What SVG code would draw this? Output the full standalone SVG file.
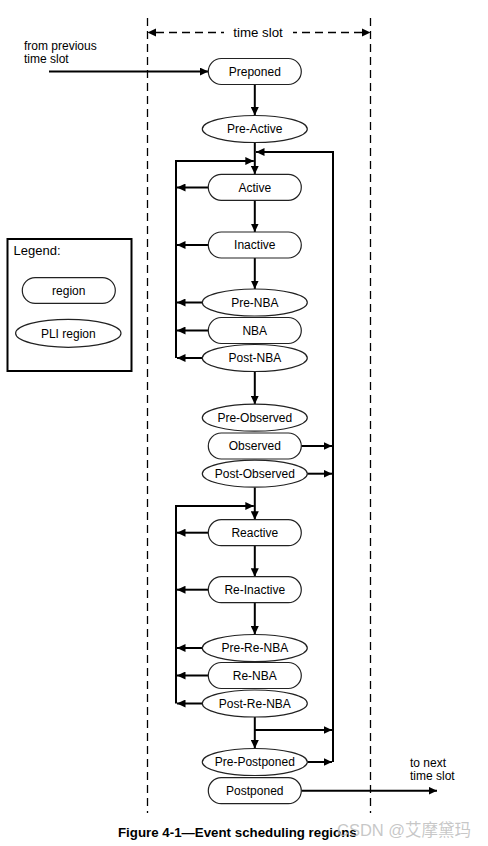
<svg xmlns="http://www.w3.org/2000/svg" width="488" height="846" viewBox="0 0 488 846">
<style>
text{font-family:"Liberation Sans",Arial,sans-serif;fill:#000}
.lbl{font-size:12px;text-anchor:middle}
.reg{fill:#fff;stroke:#222;stroke-width:1.2}
.c{fill:none;stroke:#000;stroke-width:2}
.a{marker-end:url(#ah)}
.dash{fill:none;stroke:#000;stroke-width:1.3;stroke-dasharray:8 5}
</style>
<defs>
<marker id="ah" markerUnits="userSpaceOnUse" markerWidth="9" markerHeight="8" refX="8.5" refY="4" orient="auto">
<path d="M0,0 L8.5,4 L0,8 z" fill="#000"/>
</marker>
</defs>
<rect width="488" height="846" fill="#fff"/>

<g id="timeslot">
<line class="dash" x1="147.5" y1="18" x2="147.5" y2="813"/>
<line class="dash" x1="370.5" y1="18" x2="370.5" y2="813"/>
<line class="dash" x1="156" y1="32.5" x2="224" y2="32.5"/>
<line class="dash" x1="362" y1="32.5" x2="293" y2="32.5"/>
<path d="M156,28.5 L147.5,32.5 L156,36.5 z" fill="#000"/>
<path d="M362,28.5 L370.5,32.5 L362,36.5 z" fill="#000"/>
<text x="258" y="36.5" style="font-size:13.3px;text-anchor:middle">time slot</text>
</g>

<g id="from-label">
<text x="24" y="50" style="font-size:12px">from previous</text>
<text x="24" y="63" style="font-size:12px">time slot</text>
</g>
<g id="to-label">
<text x="410" y="767" style="font-size:12px">to next</text>
<text x="410" y="780" style="font-size:12px">time slot</text>
</g>

<g id="connectors">
<line class="c a" x1="49" y1="71.5" x2="208.3" y2="71.5"/>
<line class="c a" x1="254.8" y1="84.5" x2="254.8" y2="115.5"/>
<line class="c a" x1="254.8" y1="142.5" x2="254.8" y2="174.3"/>
<polyline class="c a" points="333,762 333,152 256,152"/>
<polyline class="c a" points="176,358 176,161 253.8,161"/>
<line class="c a" x1="208.3" y1="187.5" x2="177" y2="187.5"/>
<line class="c a" x1="208.3" y1="245" x2="177" y2="245"/>
<line class="c a" x1="202.3" y1="302.5" x2="177" y2="302.5"/>
<line class="c a" x1="208.3" y1="330.5" x2="177" y2="330.5"/>
<line class="c a" x1="202.3" y1="358" x2="177" y2="358"/>
<line class="c a" x1="254.8" y1="200.3" x2="254.8" y2="232"/>
<line class="c a" x1="254.8" y1="258" x2="254.8" y2="289"/>
<line class="c a" x1="254.8" y1="371.5" x2="254.8" y2="404.2"/>
<line class="c a" x1="301.3" y1="446" x2="332" y2="446"/>
<line class="c a" x1="307.3" y1="473.7" x2="332" y2="473.7"/>
<line class="c a" x1="254.8" y1="487.2" x2="254.8" y2="519.7"/>
<polyline class="c a" points="176,703.5 176,506 253.8,506"/>
<line class="c a" x1="208.3" y1="532.7" x2="177" y2="532.7"/>
<line class="c a" x1="208.3" y1="589.7" x2="177" y2="589.7"/>
<line class="c a" x1="202.3" y1="648" x2="177" y2="648"/>
<line class="c a" x1="208.3" y1="675.5" x2="177" y2="675.5"/>
<line class="c a" x1="202.3" y1="703.5" x2="177" y2="703.5"/>
<line class="c a" x1="254.8" y1="545.7" x2="254.8" y2="576.7"/>
<line class="c a" x1="254.8" y1="602.7" x2="254.8" y2="634.5"/>
<line class="c a" x1="254.8" y1="717" x2="254.8" y2="748.5"/>
<line class="c a" x1="254.8" y1="730" x2="332" y2="730"/>
<line class="c a" x1="307.3" y1="762" x2="332" y2="762"/>
<line class="c a" x1="301.3" y1="790.7" x2="437" y2="790.7"/>
</g>

<g id="preponed"><rect class="reg" x="208.3" y="58.5" width="93" height="26" rx="13"/><text class="lbl" x="254.8" y="75.8">Preponed</text></g>
<g id="pre-active"><ellipse class="reg" cx="254.8" cy="129" rx="52.5" ry="13.5"/><text class="lbl" x="254.8" y="133.3">Pre-Active</text></g>
<g id="active"><rect class="reg" x="208.3" y="174.3" width="93" height="26" rx="13"/><text class="lbl" x="254.8" y="191.6">Active</text></g>
<g id="inactive"><rect class="reg" x="208.3" y="232" width="93" height="26" rx="13"/><text class="lbl" x="254.8" y="249.3">Inactive</text></g>
<g id="pre-nba"><ellipse class="reg" cx="254.8" cy="302.5" rx="52.5" ry="13.5"/><text class="lbl" x="254.8" y="306.8">Pre-NBA</text></g>
<g id="nba"><rect class="reg" x="208.3" y="317.5" width="93" height="26" rx="13"/><text class="lbl" x="254.8" y="334.8">NBA</text></g>
<g id="post-nba"><ellipse class="reg" cx="254.8" cy="358" rx="52.5" ry="13.5"/><text class="lbl" x="254.8" y="362.3">Post-NBA</text></g>
<g id="pre-observed"><ellipse class="reg" cx="254.8" cy="417.7" rx="52.5" ry="13.5"/><text class="lbl" x="254.8" y="422">Pre-Observed</text></g>
<g id="observed"><rect class="reg" x="208.3" y="433" width="93" height="26" rx="13"/><text class="lbl" x="254.8" y="450.3">Observed</text></g>
<g id="post-observed"><ellipse class="reg" cx="254.8" cy="473.7" rx="52.5" ry="13.5"/><text class="lbl" x="254.8" y="478">Post-Observed</text></g>
<g id="reactive"><rect class="reg" x="208.3" y="519.7" width="93" height="26" rx="13"/><text class="lbl" x="254.8" y="537">Reactive</text></g>
<g id="re-inactive"><rect class="reg" x="208.3" y="576.7" width="93" height="26" rx="13"/><text class="lbl" x="254.8" y="594">Re-Inactive</text></g>
<g id="pre-re-nba"><ellipse class="reg" cx="254.8" cy="648" rx="52.5" ry="13.5"/><text class="lbl" x="254.8" y="652.3">Pre-Re-NBA</text></g>
<g id="re-nba"><rect class="reg" x="208.3" y="662.5" width="93" height="26" rx="13"/><text class="lbl" x="254.8" y="679.8">Re-NBA</text></g>
<g id="post-re-nba"><ellipse class="reg" cx="254.8" cy="703.5" rx="52.5" ry="13.5"/><text class="lbl" x="254.8" y="707.8">Post-Re-NBA</text></g>
<g id="pre-postponed"><ellipse class="reg" cx="254.8" cy="762" rx="52.5" ry="13.5"/><text class="lbl" x="254.8" y="766.3">Pre-Postponed</text></g>
<g id="postponed"><rect class="reg" x="208.3" y="777.7" width="93" height="26" rx="13"/><text class="lbl" x="254.8" y="795">Postponed</text></g>

<g id="legend">
<rect x="7.5" y="239" width="124" height="132" fill="none" stroke="#000" stroke-width="2"/>
<text x="13.5" y="254.5" style="font-size:13px">Legend:</text>
<rect class="reg" x="22.3" y="277.7" width="93" height="25.6" rx="12.8"/>
<text class="lbl" x="68.8" y="294.8">region</text>
<ellipse class="reg" cx="68.3" cy="333.3" rx="52.7" ry="14"/>
<text class="lbl" x="68.3" y="337.6">PLI region</text>
</g>

<g id="caption">
<text x="118" y="836.5" style="font-size:13.3px;font-weight:bold">Figure 4-1—Event scheduling regions</text>
</g>
<g id="watermark">
<text x="337" y="836" style="font-family:'Liberation Sans','Noto Sans CJK SC',sans-serif;font-size:16.5px;fill:#bdbdbd;fill-opacity:0.85">CSDN @艾摩黛玛</text>
</g>
</svg>
